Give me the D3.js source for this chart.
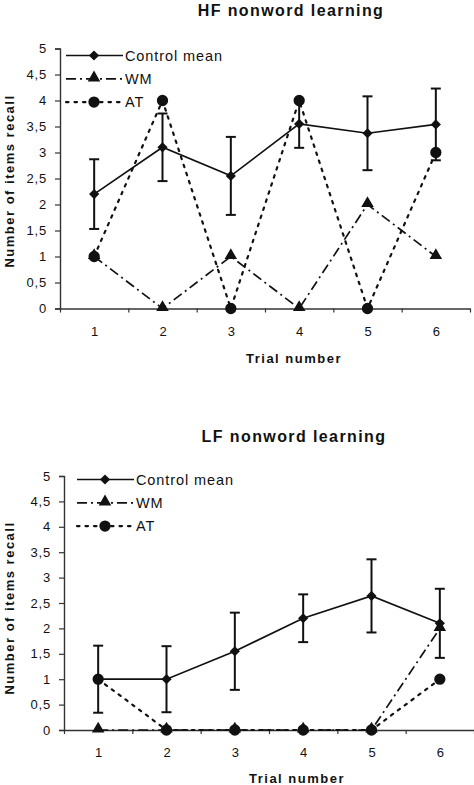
<!DOCTYPE html>
<html>
<head>
<meta charset="utf-8">
<script src="https://cdn.jsdelivr.net/npm/d3@7"></script>
<style>
  body { margin: 0; background: #fff; }
  svg { display: block; font-family: Arial, "Liberation Sans", sans-serif; }
</style>
</head>
<body>
<script>
// values
const trials = [1, 2, 3, 4, 5, 6];
const seriesNames = ["Control mean", "WM", "AT"];
const yTicks = [0, 0.5, 1, 1.5, 2, 2.5, 3, 3.5, 4, 4.5, 5];

const hfControl = [2.2, 3.1, 2.55, 3.55, 3.37, 3.54];
const hfControlErr = [0.67, 0.65, 0.75, 0.46, 0.71, 0.69];
const hfWM = [1, 0, 1, 0, 2, 1];
const hfAT = [1, 4, 0, 4, 0, 3];

const lfControl = [1.0, 1.0, 1.55, 2.2, 2.64, 2.1];
const lfControlErr = [0.66, 0.65, 0.76, 0.47, 0.72, 0.68];
const lfWM = [0, 0, 0, 0, 0, 2];
const lfAT = [1, 0, 0, 0, 0, 1];

const width = 474, height = 785;
const ink = "#111";

const svg = d3.select("body").append("svg")
    .attr("width", width)
    .attr("height", height);

const dashes = { "Control mean": null, "WM": "10,4,2,4", "AT": "2.5,6" };
const symbols = {
  "Control mean": d3.symbol().type(d3.symbolSquare).size(52)(),
  "WM": d3.symbol().type(d3.symbolTriangle).size(68)(),
  "AT": d3.symbol().type(d3.symbolCircle).size(100)()
};
const rotate = { "Control mean": 45, "WM": 0, "AT": 0 };
const yFmt = d => String(d).replace(".", ",");

function panel(cfg) {
  const g = svg.append("g");
  const x = d3.scaleLinear().domain([0.5, 6.5]).range([cfg.left, cfg.right]);
  const y = d3.scaleLinear().domain([0, 5]).range([cfg.bottom, cfg.top]);

  // title
  g.append("text")
      .attr("x", cfg.titleX).attr("y", cfg.titleY)
      .attr("text-anchor", "middle")
      .attr("font-size", 16).attr("font-weight", "bold")
      .attr("letter-spacing", 1.4)
      .attr("fill", ink)
      .text(cfg.title);

  // y axis
  const ya = g.append("g")
      .attr("transform", `translate(${cfg.left},0)`)
      .call(d3.axisLeft(y).tickValues(yTicks).tickFormat(yFmt).tickSize(5).tickPadding(8));
  ya.select(".domain").attr("stroke", "#333").attr("stroke-width", 1.4);
  ya.selectAll(".tick line").attr("stroke", "#333").attr("stroke-width", 1.2);
  ya.selectAll("text").attr("font-size", 13).attr("letter-spacing", 0.8)
      .attr("fill", ink).attr("font-family", "Arial, 'Liberation Sans', sans-serif");

  // x axis: ticks between categories, labels on categories
  const xa = g.append("g")
      .attr("transform", `translate(0,${cfg.bottom})`)
      .call(d3.axisBottom(x).tickValues([0.5, 1.5, 2.5, 3.5, 4.5, 5.5, 6.5]).tickFormat("").tickSize(4).tickSizeOuter(0));
  xa.select(".domain").attr("stroke", "#333").attr("stroke-width", 1.4);
  xa.selectAll(".tick line").attr("stroke", "#333").attr("stroke-width", 1.2);

  const xl = g.append("g")
      .attr("transform", `translate(0,${cfg.bottom})`)
      .call(d3.axisBottom(x).tickValues(trials).tickFormat(d3.format("d")).tickSize(0).tickPadding(18));
  xl.select(".domain").remove();
  xl.selectAll("text").attr("font-size", 13).attr("fill", ink)
      .attr("font-family", "Arial, 'Liberation Sans', sans-serif");

  g.append("text")
      .attr("x", cfg.xLabelX).attr("y", cfg.xLabelY)
      .attr("text-anchor", "middle")
      .attr("font-size", 13).attr("font-weight", "bold")
      .attr("letter-spacing", 1.5).attr("fill", ink)
      .text("Trial number");

  g.append("text")
      .attr("transform", `translate(${cfg.yLabelX},${cfg.yLabelY}) rotate(-90)`)
      .attr("text-anchor", "middle")
      .attr("font-size", 13).attr("font-weight", "bold")
      .attr("letter-spacing", 1.5).attr("fill", ink)
      .text("Number of items recall");

  const series = [
    { name: "WM", values: cfg.wm },
    { name: "AT", values: cfg.at },
    { name: "Control mean", values: cfg.control }
  ];

  const line = d3.line().x((d, i) => x(trials[i])).y(d => y(d));

  // error bars
  const eb = g.append("g").attr("stroke", ink).attr("stroke-width", 2);
  cfg.control.forEach((v, i) => {
    const cx = x(trials[i]);
    const lo = y(v - cfg.err[i]), hi = y(v + cfg.err[i]);
    eb.append("line").attr("x1", cx).attr("x2", cx).attr("y1", lo).attr("y2", hi);
    eb.append("line").attr("x1", cx - 5).attr("x2", cx + 5).attr("y1", lo).attr("y2", lo);
    eb.append("line").attr("x1", cx - 5).attr("x2", cx + 5).attr("y1", hi).attr("y2", hi);
  });

  series.forEach(s => {
    g.append("path")
        .attr("d", line(s.values))
        .attr("fill", "none")
        .attr("stroke", ink)
        .attr("stroke-width", s.name === "AT" ? 2.2 : 1.7)
        .attr("stroke-linecap", s.name === "AT" ? "round" : "butt")
        .attr("stroke-dasharray", dashes[s.name]);
    g.selectAll(null).data(s.values).join("path")
        .attr("d", symbols[s.name])
        .attr("transform", (d, i) => `translate(${x(trials[i])},${y(d) + (s.name === "WM" ? -1 : 0)}) rotate(${rotate[s.name]})`)
        .attr("fill", ink);
  });

  // legend
  const lg = g.append("g");
  seriesNames.forEach((name, i) => {
    const ly = cfg.legY + i * cfg.legStep;
    lg.append("line")
        .attr("x1", cfg.legX).attr("x2", cfg.legX + 57)
        .attr("y1", ly).attr("y2", ly)
        .attr("stroke", ink)
        .attr("stroke-width", name === "AT" ? 2.2 : 1.7)
        .attr("stroke-linecap", name === "AT" ? "round" : "butt")
        .attr("stroke-dasharray", dashes[name]);
    lg.append("path")
        .attr("d", symbols[name])
        .attr("transform", `translate(${cfg.legX + 28},${ly + (name === "WM" ? -1 : 0)}) rotate(${rotate[name]})`)
        .attr("fill", ink);
    lg.append("text")
        .attr("x", cfg.legX + 59).attr("y", ly + 5)
        .attr("font-size", 14.5).attr("letter-spacing", 0.9)
        .attr("fill", ink)
        .text(name);
  });
}

panel({
  title: "HF nonword learning", titleX: 291, titleY: 16,
  left: 60, right: 470, top: 48.5, bottom: 308.5,
  xLabelX: 294, xLabelY: 363,
  yLabelX: 14, yLabelY: 181,
  legX: 66, legY: 55.5, legStep: 23.3,
  control: hfControl, err: hfControlErr, wm: hfWM, at: hfAT
});

panel({
  title: "LF nonword learning", titleX: 294, titleY: 442,
  left: 64, right: 474, top: 476, bottom: 730,
  xLabelX: 297, xLabelY: 783,
  yLabelX: 14, yLabelY: 608,
  legX: 77, legY: 479.5, legStep: 23.3,
  control: lfControl, err: lfControlErr, wm: lfWM, at: lfAT
});
</script>
</body>
</html>
